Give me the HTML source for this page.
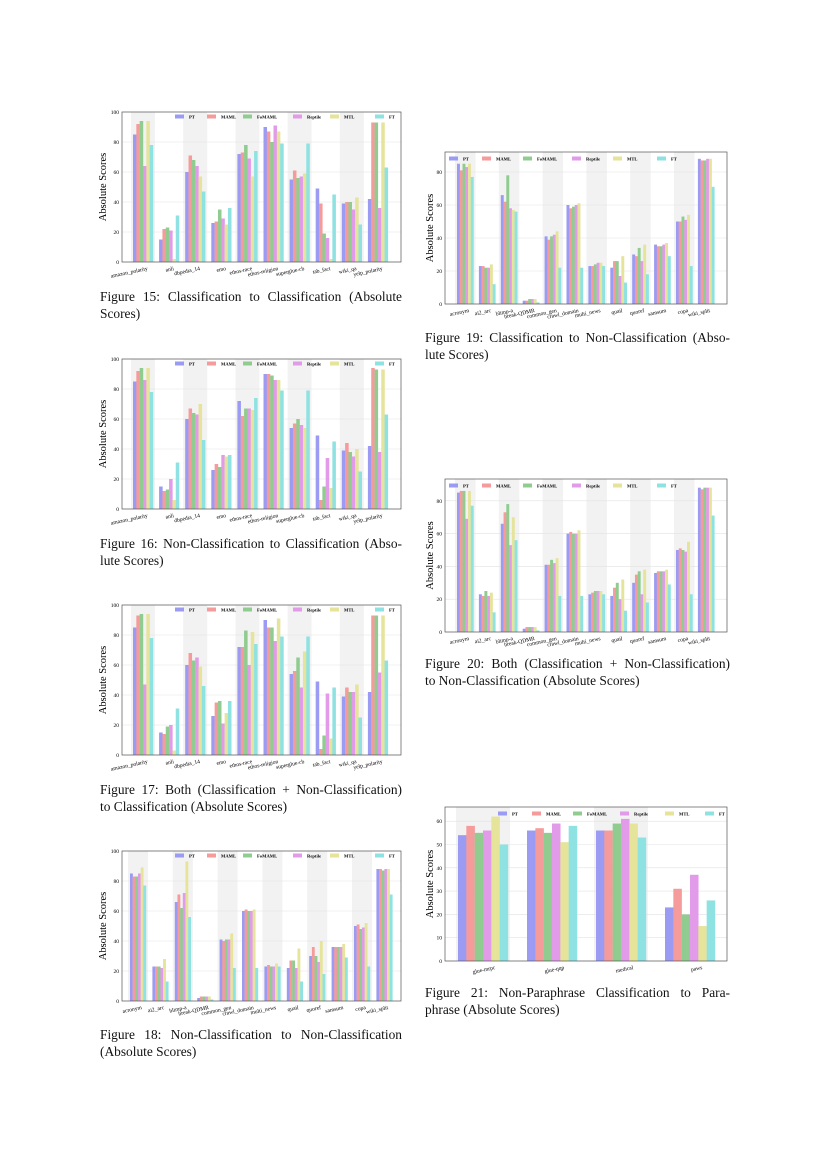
<!DOCTYPE html>
<html><head><meta charset="utf-8"><style>
body{margin:0;background:#fff;}
#pg{position:relative;width:827px;height:1169px;overflow:hidden;font-family:"Liberation Serif",serif;}
.cap{position:absolute;font-size:13.4px;line-height:16.5px;color:#111;}
.cap div{white-space:nowrap;}
.cap .j{text-align:justify;text-align-last:justify;white-space:normal;}
svg{position:absolute;left:0;top:0;}
</style></head><body><div id="pg">
<svg id="s" width="827" height="1169" xmlns="http://www.w3.org/2000/svg" font-family="Liberation Serif, serif"></svg>
<div class="cap" style="left:100px;top:289px;width:302px"><div class="j">Figure 15: Classification to Classification (Absolute</div><div>Scores)</div></div>
<div class="cap" style="left:100px;top:536px;width:302px"><div class="j">Figure 16: Non-Classification to Classification (Abso-</div><div>lute Scores)</div></div>
<div class="cap" style="left:100px;top:782px;width:302px"><div class="j">Figure 17: Both (Classification + Non-Classification)</div><div>to Classification (Absolute Scores)</div></div>
<div class="cap" style="left:100px;top:1027px;width:302px"><div class="j">Figure 18: Non-Classification to Non-Classification</div><div>(Absolute Scores)</div></div>
<div class="cap" style="left:425px;top:330px;width:305px"><div class="j">Figure 19: Classification to Non-Classification (Abso-</div><div>lute Scores)</div></div>
<div class="cap" style="left:425px;top:656px;width:305px"><div class="j">Figure 20: Both (Classification + Non-Classification)</div><div>to Non-Classification (Absolute Scores)</div></div>
<div class="cap" style="left:425px;top:985px;width:305px"><div class="j">Figure 21: Non-Paraphrase Classification to Para-</div><div>phrase (Absolute Scores)</div></div>
</div>
<script>
var C=["#9b9bf4","#f59b9b","#90cc90","#e29be9","#e6e39b","#8fe2e2"];
var N=["PT","MAML","FoMAML","Reptile","MTL","FT"];
var L1=["amazon_polarity","anli","dbpedia_14","emo","ethos-race","ethos-religion","superglue-cb","tab_fact","wiki_qa","yelp_polarity"];
var L2=["acronym","ai2_arc","blimp-a","break-QDMR","common_gen","crawl_domain","multi_news","quail","quoref","samsum","copa","wiki_split"];
var s="";
function chart(o){
 var x0=o.x0,x1=o.x1,yt=o.yt,yb=o.yb,u=o.u;
 for(var g=0;g<o.d.length;g+=2){var gx=o.gs+g*o.st-2;s+='<rect x="'+gx+'" y="'+yt+'" width="'+(o.gw+4)+'" height="'+(yb-yt)+'" fill="#f2f2f2"/>';}
 for(var t=0;t<=o.max;t+=o.tk){var y=yb-t*u;if(y<yt-0.5)continue;s+='<line x1="'+x0+'" x2="'+x1+'" y1="'+y+'" y2="'+y+'" stroke="#e2e2e2" stroke-width="0.6"/>';s+='<text x="'+(x0-3)+'" y="'+(y+2)+'" font-size="5.5" text-anchor="end">'+t+'</text>';}
 var bw=o.gw/6;
 o.d.forEach(function(r,g){r.forEach(function(v,i){var h=v*u;s+='<rect x="'+(o.gs+g*o.st+i*bw)+'" y="'+(yb-h)+'" width="'+(bw+0.2)+'" height="'+h+'" fill="'+C[i]+'"/>';});
  var cx=o.gs+g*o.st+o.gw/2+o.gw*0.25;s+='<text transform="translate('+cx+','+(yb+8)+') rotate(-12)" font-size="5.6" text-anchor="end">'+o.l[g]+'</text>';});
 s+='<rect x="'+x0+'" y="'+yt+'" width="'+(x1-x0)+'" height="'+(yb-yt)+'" fill="none" stroke="#555" stroke-width="0.7"/>';
 var ly=o.ly;o.lx.forEach(function(lx,i){s+='<rect x="'+lx+'" y="'+(ly-2.5)+'" width="9" height="4" fill="'+C[i]+'"/><text x="'+(lx+14)+'" y="'+(ly+1.5)+'" font-size="4.6" font-weight="bold">'+N[i]+'</text>';});
 s+='<text transform="translate('+o.yl+','+((yt+yb)/2)+') rotate(-90)" font-size="10.5" text-anchor="middle">Absolute Scores</text>';
}
var LLX=[175,207,243,293,330,375],RLX=[449,482,523,572,613,657];
function left(yt,yb,d){chart({x0:122,x1:401,yt:yt,yb:yb,u:(yb-yt)/100,max:100,tk:20,gs:133,st:26.1,gw:20,d:d,l:L1,lx:LLX,ly:yt+5,yl:106});}
function right(yt,yb,u,d){chart({x0:445,x1:727,yt:yt,yb:yb,u:u,max:80,tk:20,gs:457,st:21.9,gw:16.5,d:d,l:L2,lx:RLX,ly:yt+7,yl:433});}
left(112,262,[[85,92,94,64,94,78],[15,22,23,21,2,31],[60,71,68,64,57,47],[26,27,35,29,25,36],[72,73,78,69,57,74],[90,87,80,91,87,79],[55,61,56,57,59,79],[49,39,19,16,2,45],[39,40,40,35,43,25],[42,93,93,36,93,63]]);
left(359,509,[[85,92,94,86,94,78],[15,12,13,20,6,31],[60,67,64,63,70,46],[26,30,28,36,35,36],[72,62,67,67,66,74],[90,90,89,86,86,79],[54,57,60,56,54,79],[49,6,15,34,14,45],[39,44,38,35,40,25],[42,94,93,38,93,63]]);
left(605,755,[[85,93,94,47,94,78],[15,14,19,20,3,31],[60,68,63,65,59,46],[26,35,36,21,28,36],[72,72,83,60,82,74],[90,85,85,76,91,79],[54,56,65,45,69,79],[49,4,13,41,11,45],[39,45,42,42,47,25],[42,93,93,55,93,63]]);
chart({x0:122,x1:401,yt:851,yb:1001,u:1.5,max:100,tk:20,gs:130,st:22.4,gw:16,d:[[85,83,83,85,89,77],[23,23,23,22,28,13],[66,71,62,72,93,56],[2,3,3,3,3,1],[41,40,41,41,45,22],[60,61,60,60,61,22],[23,24,23,23,25,23],[22,27,27,22,35,13],[30,36,30,26,40,18],[36,36,36,36,38,29],[50,51,48,49,52,23],[88,88,87,88,88,71]],l:L2,lx:LLX,ly:856,yl:106});
right(152,304,1.65,[[85,81,85,83,85,77],[23,23,22,22,24,12],[66,62,78,58,57,56],[2,2,3,3,3,1],[41,39,41,42,44,22],[60,58,59,60,61,22],[23,23,24,25,25,23],[22,26,26,17,29,13],[30,29,34,26,36,18],[36,35,35,36,37,29],[50,50,53,51,54,23],[88,87,87,88,88,71]]);
right(479,632,1.64,[[85,86,86,69,86,77],[23,22,25,22,24,12],[66,73,78,53,70,56],[2,3,3,3,3,1],[41,41,44,42,45,22],[60,61,60,60,62,22],[23,24,25,25,25,23],[22,27,30,20,32,13],[30,35,37,23,38,18],[36,37,37,37,38,29],[50,51,50,49,55,23],[88,87,88,88,88,71]]);
chart({x0:445,x1:727,yt:807,yb:961,u:2.33,max:60,tk:10,gs:458,st:69,gw:50,d:[[54,58,55,56,62,50],[56,57,55,59,51,58],[56,56,59,61,59,53],[23,31,20,37,15,26]],l:["glue-mrpc","glue-qqp","medical","paws"],lx:[498,532,573,620,665,705],ly:814,yl:433});
document.getElementById("s").innerHTML=s;
</script></body></html>
